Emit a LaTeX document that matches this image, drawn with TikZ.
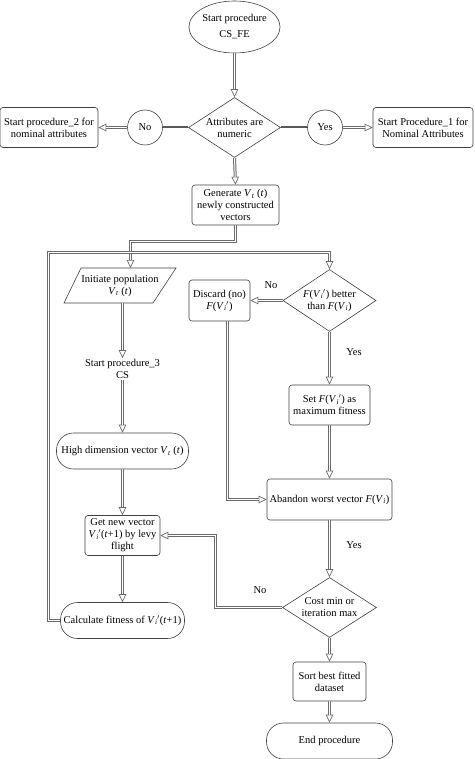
\documentclass[tikz,border=0pt]{standalone}
\usepackage{fontspec}
\setmainfont{Liberation Serif}
\usetikzlibrary{arrows.meta,shapes.geometric,calc}
\newcommand\vsub[2]{\textit{#1}\kern0.3pt\textsubscript{\textit{#2}}}
\newcommand\vpr{\textit{V}\kern0.3pt\textsubscript{\textit{i}}\kern-0.5pt$'$}
\begin{document}
\begin{tikzpicture}[x=1pt,y=-1pt,
  font=\fontsize{10.5}{12}\selectfont,
  every node/.style={align=center, inner sep=1pt},
  box/.style={draw=black!75, line width=0.6pt, rounded corners=3pt, minimum width=#1, minimum height=40},
  pill/.style={draw=black!75, line width=0.6pt, rounded corners=17pt, minimum width=#1, minimum height=36},
  dec/.style={draw=black!75, line width=0.6pt, shape=diamond, aspect=1.5, inner sep=0pt, minimum width=#1, minimum height=60},
  ring/.style={draw=black!75, line width=0.6pt, circle, minimum size=35, inner sep=0pt},
  conn/.style={draw=black!58, line width=3pt,
     -{Triangle[open, length=8pt, width=7.5pt, line width=0.7pt]},
     postaction={draw=white, line width=1pt, -, shorten >=7.8pt}},
  plain/.style={draw=black!65, line width=2pt},
  lab/.style={inner sep=0pt}
]
\useasboundingbox (0,0) rectangle (474,759);

% top
\node[draw=black!75, line width=0.6pt, ellipse, minimum width=74, minimum height=52, inner sep=0pt] (start) at (234.5,27) {Start procedure\\[4pt]CS\_FE};
\node[dec=92] (attr) at (234.5,127.5) {Attributes are\\numeric};
\node[ring] (no) at (145,127.5) {No};
\node[ring] (yes) at (325,127.5) {Yes};
\node[box=98] (left) at (49,127.5) {Start procedure\_2 for\\nominal attributes};
\node[box=100] (right) at (423,127.5) {Start Procedure\_1 for\\Nominal Attributes};
\node[box=87] (gen) at (235.5,205) {Generate \vsub{V}{t} (\textit{t})\\newly constructed\\vectors};

% left column
\node (init) at (120,285.5) {Initiate population\\\vsub{V}{t} (\textit{t})};
\draw[draw=black!75, line width=0.6pt] (81,268) -- (176,268) -- (153,303) -- (64,303) -- cycle;
\coordinate (initT) at (130.5,268);
\coordinate (initB) at (122.5,303);
\node (cs) at (122.5,369) {Start procedure\_3\\CS};
\node[pill=132] (high) at (122.5,451) {High dimension vector \vsub{V}{t} (\textit{t})};
\node[box=75] (getnew) at (122.5,535.5) {Get new vector\\\vpr(\textit{t}+1) by levy\\flight};
\node[pill=124] (calc) at (122.5,620.5) {Calculate fitness of \vpr(\textit{t}+1)};

% right column
\node[dec=93, minimum height=62] (fdec) at (329.5,300.5) {\textit{F}(\vpr) better\\than \textit{F}(\vsub{V}{i})};
\node[box=61, minimum height=41] (disc) at (219.5,300.5) {Discard (no)\\\textit{F}(\vpr)};
\node[box=81] (setb) at (329.5,405) {Set \textit{F}(\vpr) as\\maximum fitness};
\node[box=125, minimum height=41] (aband) at (329.5,499.5) {Abandon worst vector \textit{F}(\vsub{V}{i})};
\node[dec=94] (cost) at (329.5,607.5) {Cost min or\\iteration max};
\node[box=73, minimum height=39] (sort) at (329.5,681.5) {Sort best fitted\\dataset};
\node[pill=126, minimum height=36] (endp) at (329.5,741) {End procedure};

% labels
\node[lab] (lno1) at (271,285) {No};
\node[lab] (lyes1) at (354,352) {Yes};
\node[lab] (lyes2) at (354,545) {Yes};
\node[lab] (lno2) at (260,590) {No};

% corner points of the bent connectors
\coordinate (g1) at (235.5,241.5);
\coordinate (f2) at (48.5,252.5);
\coordinate (dsb) at (227.5,321);
\coordinate (k2) at (215.5,535.5);

% connectors
\draw[conn] (start.south) -- (attr.north);
\draw[plain] (attr.west) -- (no.east);
\draw[conn] (no.west) -- (left.east);
\draw[plain] (attr.east) -- (yes.west);
\draw[conn] (yes.east) -- (right.west);
\draw[conn] (attr.south) -- (gen.north);
\draw[conn] (gen.south) -- (g1) -| (initT);
\draw[conn] (calc.west) -| (f2) -| (fdec.north);
\draw[conn] (initB) -- (cs.north);
\draw[conn] (cs.south) -- (high.north);
\draw[conn] (high.south) -- (getnew.north);
\draw[conn] (getnew.south) -- (calc.north);
\draw[conn] (fdec.west) -- (disc.east);
\draw[conn] (dsb) |- (aband.west);
\draw[conn] (fdec.south) -- (setb.north);
\draw[conn] (setb.south) -- (aband.north);
\draw[conn] (aband.south) -- (cost.north);
\draw[conn] (cost.west) -| (k2) -- (getnew.east);
\draw[conn] (cost.south) -- (sort.north);
\draw[conn] (sort.south) -- (endp.north);
\end{tikzpicture}
\end{document}
